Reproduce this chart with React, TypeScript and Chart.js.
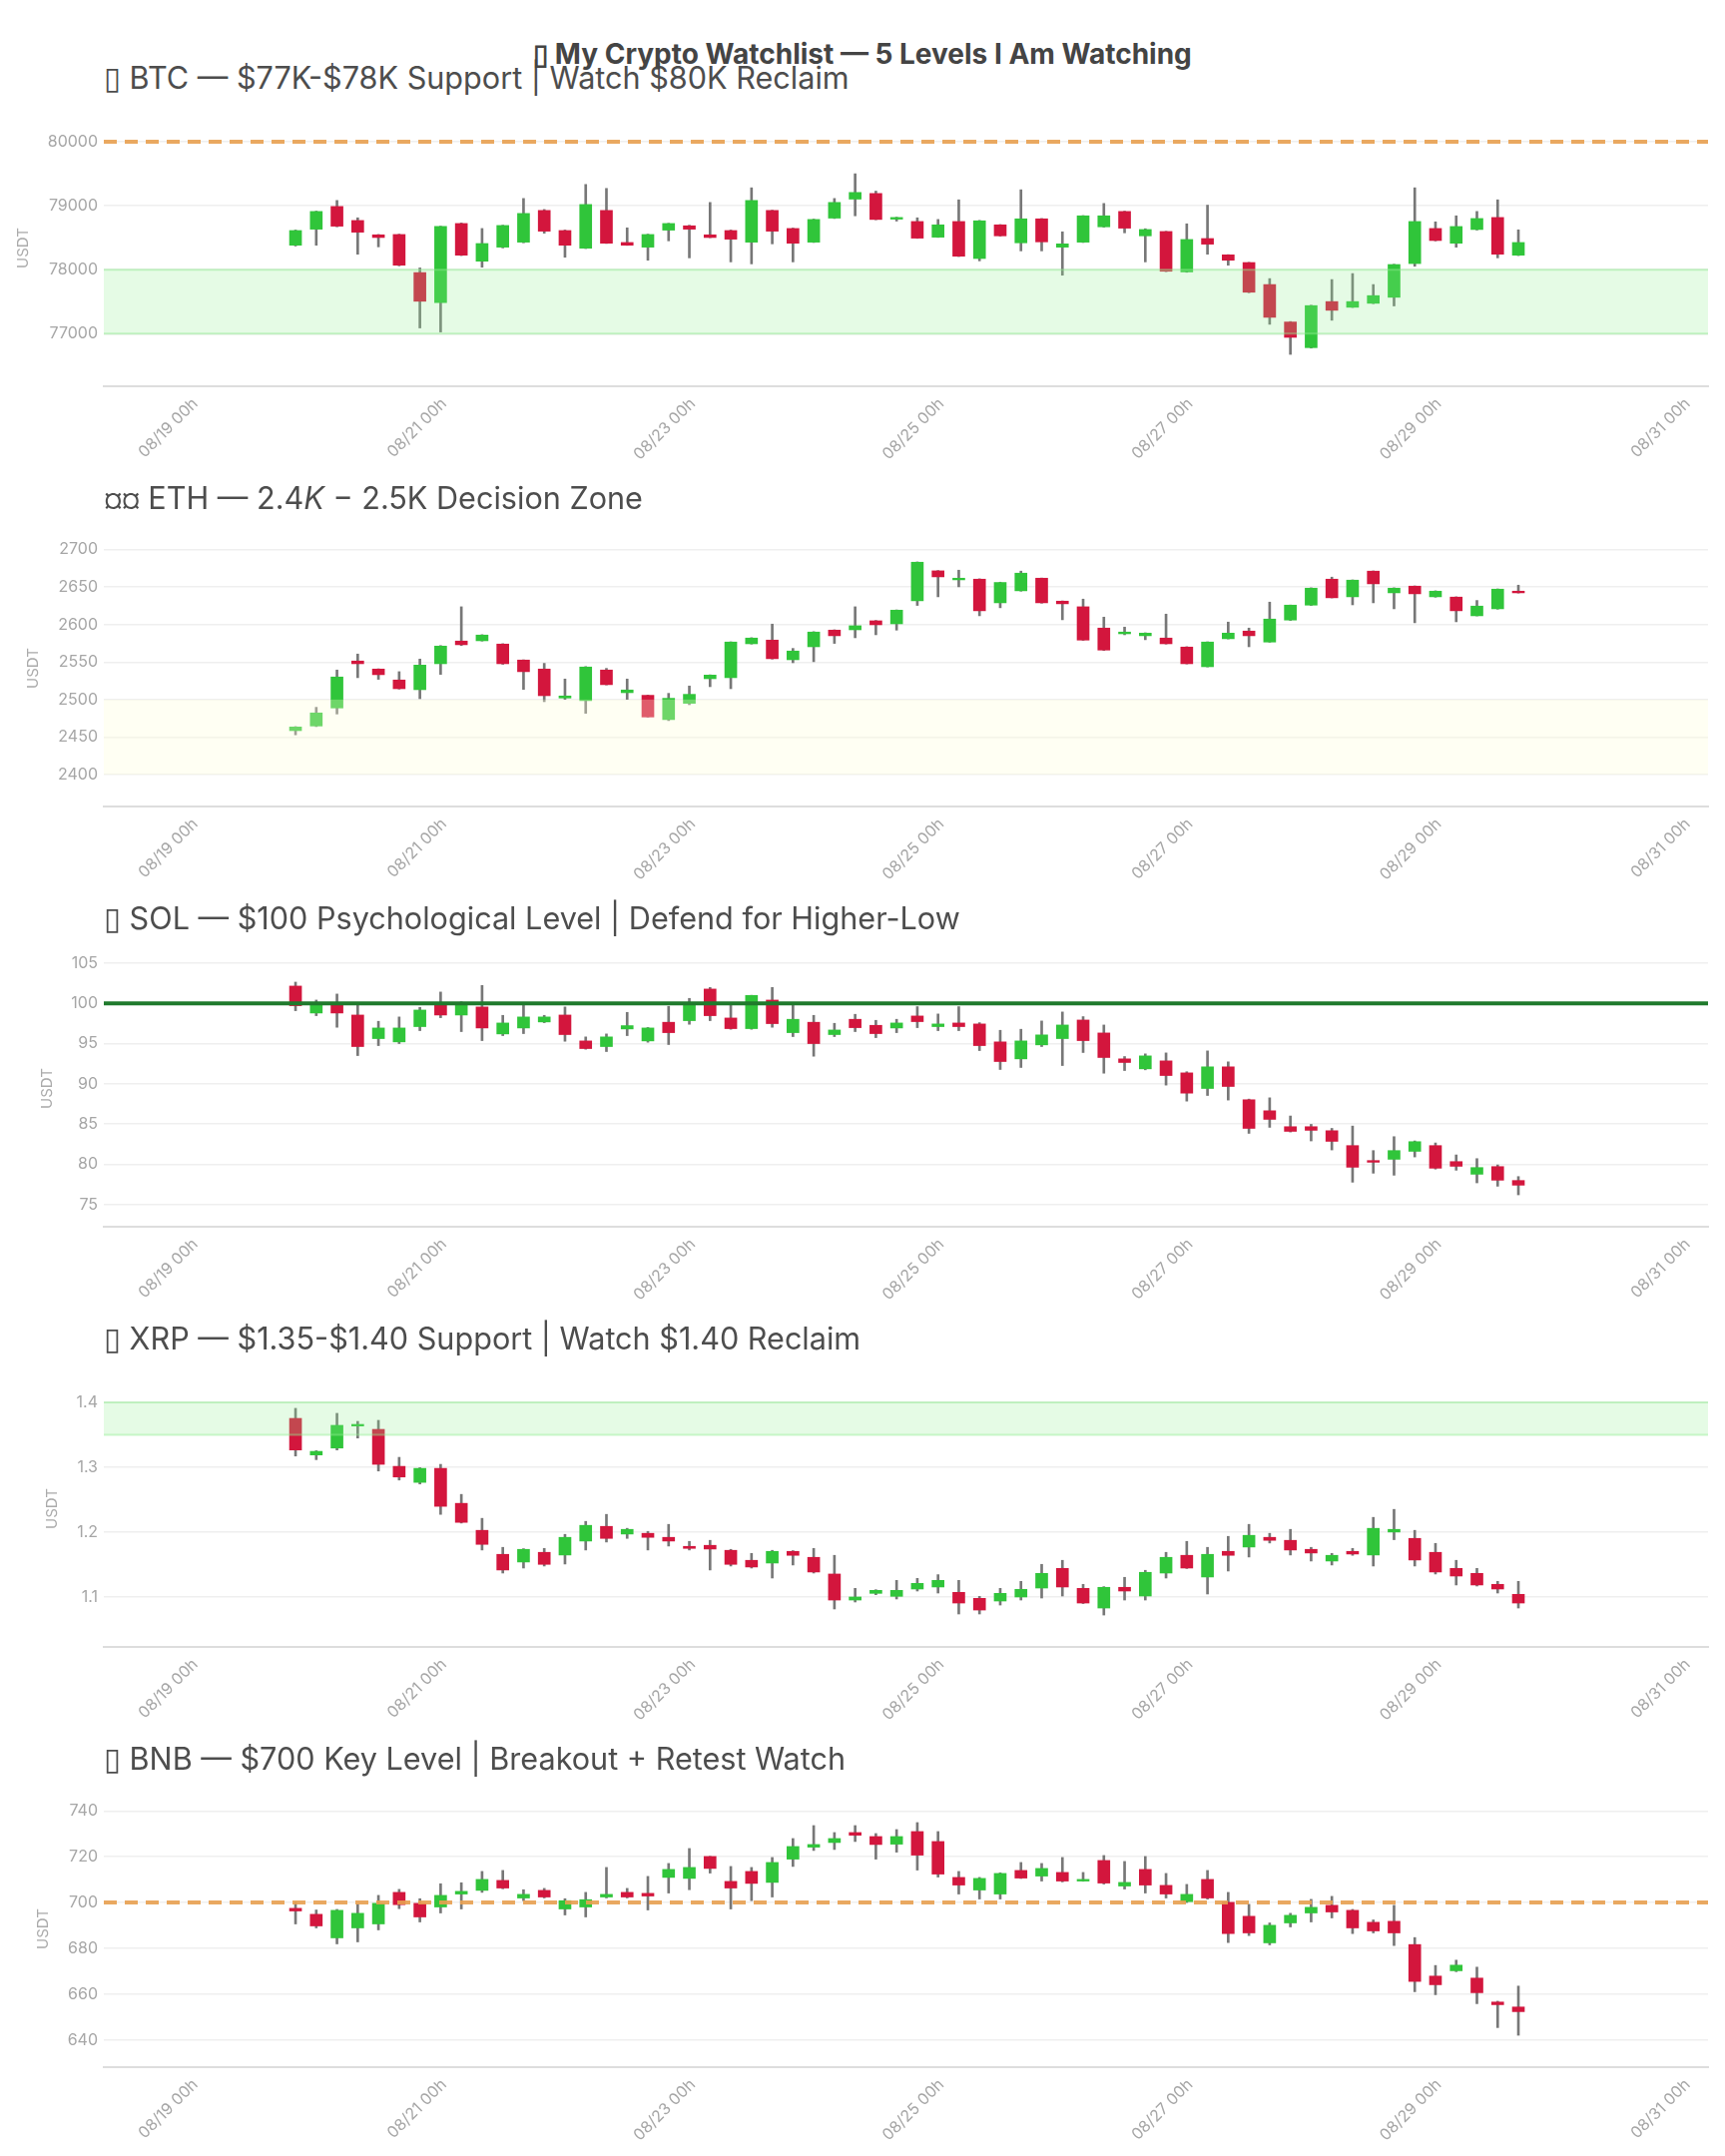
import React, { useEffect, useRef } from "react";
import { Chart, registerables } from "chart.js";

Chart.register(...registerables);

// ---------------- DATA ----------------
const CANDLE_TIMES = [
  "08/19 18h", "08/19 22h",
  "08/20 02h", "08/20 06h", "08/20 10h", "08/20 14h", "08/20 18h", "08/20 22h",
  "08/21 02h", "08/21 06h", "08/21 10h", "08/21 14h", "08/21 18h", "08/21 22h",
  "08/22 02h", "08/22 06h", "08/22 10h", "08/22 14h", "08/22 18h", "08/22 22h",
  "08/23 02h", "08/23 06h", "08/23 10h", "08/23 14h", "08/23 18h", "08/23 22h",
  "08/24 02h", "08/24 06h", "08/24 10h", "08/24 14h", "08/24 18h", "08/24 22h",
  "08/25 02h", "08/25 06h", "08/25 10h", "08/25 14h", "08/25 18h", "08/25 22h",
  "08/26 02h", "08/26 06h", "08/26 10h", "08/26 14h", "08/26 18h", "08/26 22h",
  "08/27 02h", "08/27 06h", "08/27 10h", "08/27 14h", "08/27 18h", "08/27 22h",
  "08/28 02h", "08/28 06h", "08/28 10h", "08/28 14h", "08/28 18h", "08/28 22h",
  "08/29 02h", "08/29 06h", "08/29 10h", "08/29 14h",
];

const X_TICK_LABELS = ["08/19 00h", "08/21 00h", "08/23 00h", "08/25 00h", "08/27 00h", "08/29 00h", "08/31 00h"];

const BTC_OPEN = [78383, 78633, 78988, 78769, 78545, 78550, 77955, 77486, 78722, 78133, 78352, 78430, 78926, 78612, 78336, 78926, 78425, 78352, 78618, 78686, 78545, 78612, 78430, 78926, 78644, 78430, 78806, 79103, 79191, 78790, 78753, 78508, 78753, 78175, 78701, 78420, 78795, 78352, 78430, 78670, 78910, 78529, 78597, 77966, 78487, 78232, 78112, 77768, 77183, 76782, 77502, 77413, 77475, 77569, 78096, 78644, 78414, 78628, 78816, 78227];
const BTC_HIGH = [78620, 78915, 79082, 78811, 78550, 78555, 78028, 78680, 78730, 78644, 78695, 79113, 78941, 78620, 79332, 79270, 78654, 78555, 78725, 78695, 79051, 78620, 79280, 78930, 78650, 78790, 79113, 79499, 79228, 78820, 78811, 78785, 79092, 78770, 78705, 79249, 78800, 78592, 78845, 79035, 78915, 78640, 78600, 78717, 79009, 78235, 78115, 77861, 77190, 77445, 77846, 77940, 77768, 78085, 79280, 78748, 78842, 78910, 79092, 78623];
const BTC_LOW = [78370, 78383, 78670, 78242, 78357, 78060, 77090, 77027, 78220, 78039, 78340, 78420, 78570, 78195, 78330, 78410, 78380, 78148, 78451, 78185, 78500, 78122, 78091, 78404, 78122, 78425, 78800, 78842, 78780, 78760, 78490, 78505, 78205, 78138, 78525, 78294, 78294, 77914, 78425, 78665, 78576, 78122, 77970, 77960, 78242, 78070, 77640, 77147, 76677, 76775, 77210, 77410, 77470, 77434, 78054, 78450, 78352, 78620, 78185, 78220];
const BTC_CLOSE = [78612, 78910, 78680, 78586, 78503, 78070, 77507, 78675, 78227, 78409, 78691, 78879, 78602, 78383, 79019, 78414, 78383, 78550, 78722, 78633, 78503, 78477, 79082, 78602, 78414, 78785, 79051, 79207, 78785, 78816, 78493, 78701, 78211, 78764, 78529, 78795, 78435, 78404, 78842, 78842, 78649, 78628, 77976, 78472, 78399, 78148, 77648, 77256, 76943, 77439, 77366, 77502, 77595, 78081, 78753, 78456, 78675, 78800, 78242, 78425];

const ETH_OPEN = [2458.6, 2464.8, 2488.8, 2551.4, 2540.7, 2526.1, 2513.2, 2547.8, 2578, 2578.4, 2574, 2552.7, 2540.7, 2502.1, 2498.6, 2539.4, 2509.2, 2505.7, 2473.3, 2495, 2527.8, 2529.2, 2574.4, 2579.3, 2553.1, 2570.4, 2592.6, 2593, 2605, 2601, 2631.7, 2671.6, 2659.6, 2660.5, 2629, 2645, 2661.8, 2631.2, 2623.7, 2595.3, 2587.7, 2585.1, 2582, 2570, 2543.8, 2581.1, 2591.3, 2576.7, 2606, 2625.9, 2660.5, 2637, 2671.2, 2642.3, 2651.2, 2637, 2636.6, 2611.7, 2621, 2644.5];
const ETH_HIGH = [2464, 2489.7, 2539.4, 2560.7, 2541, 2537.2, 2554, 2572, 2623.7, 2586.5, 2574.5, 2553, 2548.3, 2527.4, 2544, 2541.6, 2527.4, 2506, 2508.3, 2518.1, 2533, 2577, 2582.5, 2600.6, 2568.2, 2590.5, 2593, 2623.7, 2605.5, 2619.5, 2683.5, 2672, 2672.5, 2661, 2656.5, 2671.2, 2662, 2631.5, 2633.9, 2609.9, 2596.6, 2589, 2613.9, 2570.5, 2577, 2603.3, 2595.3, 2629.9, 2626, 2649, 2663.2, 2659.5, 2671.5, 2649, 2651.5, 2645, 2637, 2632.1, 2647.5, 2652.5];
const ETH_LOW = [2453, 2464, 2480.8, 2529.2, 2527, 2514, 2501.2, 2533.6, 2572, 2578, 2547, 2513.6, 2497.2, 2500.3, 2481.7, 2519.5, 2500.3, 2476.5, 2472, 2493.2, 2517.2, 2514.5, 2574, 2554, 2549.1, 2550.5, 2574.9, 2582.4, 2586.4, 2592.6, 2625.5, 2637, 2650.3, 2611.7, 2622.4, 2644.5, 2628.5, 2606.4, 2579, 2565.5, 2586.4, 2579.8, 2574, 2547.5, 2543.5, 2580.8, 2570.4, 2576.5, 2605.5, 2625.5, 2635.5, 2626.3, 2629, 2621, 2602.4, 2636.5, 2603.7, 2611.5, 2620.5, 2642];
const ETH_CLOSE = [2463.5, 2482.2, 2530.1, 2547.8, 2533.2, 2514.5, 2546, 2571.3, 2573.1, 2586, 2547.8, 2537.2, 2505.2, 2504.8, 2543.4, 2519.9, 2512.8, 2476.8, 2501.7, 2507, 2532.7, 2576.7, 2582, 2554.5, 2564.7, 2590, 2585.1, 2598.4, 2599.7, 2619.2, 2683.1, 2663.6, 2661.8, 2618.4, 2656.1, 2668.5, 2629, 2627.7, 2579.3, 2566, 2590, 2588.6, 2574.4, 2547.8, 2576.7, 2588.6, 2585.1, 2607.3, 2625.9, 2648.5, 2635.7, 2659.2, 2654.3, 2648.5, 2641, 2644.5, 2618.4, 2624.6, 2647.2, 2642.3];

const SOL_OPEN = [102.15, 98.8, 100, 98.55, 95.62, 95.21, 97.11, 99.83, 98.55, 99.55, 96.2, 96.94, 97.69, 98.55, 95.33, 94.63, 96.82, 95.33, 97.65, 97.85, 101.78, 98.18, 96.86, 100.41, 96.36, 97.65, 96.12, 98.02, 97.27, 96.94, 98.43, 97.11, 97.56, 97.44, 95.21, 93.1, 94.84, 95.62, 97.93, 96.32, 93.1, 91.86, 92.85, 91.36, 89.42, 92.11, 88.02, 86.65, 84.67, 84.67, 84.17, 82.32, 80.46, 80.62, 81.61, 82.32, 80.33, 78.76, 79.71, 77.98];
const SOL_HIGH = [102.64, 100.41, 101.16, 99.8, 97.77, 98.31, 99.5, 101.41, 100.2, 102.23, 98.51, 99.8, 98.51, 99.55, 95.83, 96.2, 98.88, 97, 99.63, 100.62, 101.98, 99.8, 101, 101.98, 99.8, 98.51, 97.52, 98.64, 97.89, 98.02, 99.59, 98.68, 99.59, 97.6, 96.65, 96.78, 97.81, 98.93, 98.35, 97.31, 93.39, 93.72, 93.84, 91.5, 94.09, 92.73, 88.1, 88.26, 86, 84.96, 84.46, 84.75, 81.7, 83.43, 82.9, 82.65, 81.16, 80.7, 79.92, 78.47];
const SOL_LOW = [99.09, 98.47, 97.03, 93.51, 94.75, 95, 96.61, 98.22, 96.49, 95.37, 95.99, 96.24, 97.6, 95.29, 94.3, 94.01, 95.99, 95.17, 94.88, 97.4, 97.85, 96.78, 96.78, 97.03, 95.87, 93.43, 95.87, 96.49, 95.74, 96.36, 96.98, 96.61, 96.61, 94.13, 91.78, 92.03, 94.63, 92.27, 93.89, 91.32, 91.65, 91.74, 89.84, 87.85, 88.55, 87.98, 83.84, 84.59, 84.01, 82.9, 81.78, 77.77, 78.89, 78.64, 80.91, 79.4, 79.26, 77.69, 77.27, 76.2];
const SOL_CLOSE = [99.71, 100, 98.8, 94.63, 96.94, 96.94, 99.17, 98.55, 100, 96.94, 97.56, 98.31, 98.31, 96.12, 94.38, 95.83, 97.23, 96.94, 96.36, 100, 98.47, 96.86, 100.99, 97.48, 98.02, 95, 96.69, 96.98, 96.24, 97.56, 97.73, 97.44, 97.11, 94.75, 92.77, 95.33, 96.08, 97.31, 95.37, 93.27, 92.65, 93.47, 91.03, 88.84, 92.11, 89.67, 84.46, 85.58, 84.09, 84.22, 82.85, 79.63, 80.25, 81.7, 82.81, 79.51, 79.75, 79.59, 78.02, 77.4];

const XRP_OPEN = [1.3753, 1.3189, 1.3296, 1.3635, 1.3584, 1.3014, 1.2767, 1.2983, 1.2444, 1.2028, 1.1658, 1.154, 1.1689, 1.1648, 1.1863, 1.2089, 1.1971, 1.1982, 1.192, 1.1781, 1.1797, 1.172, 1.1566, 1.1524, 1.1704, 1.1612, 1.1355, 1.0954, 1.1057, 1.1011, 1.1124, 1.1155, 1.1072, 1.098, 1.0939, 1.1001, 1.1139, 1.1442, 1.1134, 1.0831, 1.115, 1.1016, 1.137, 1.1643, 1.1309, 1.1704, 1.1771, 1.192, 1.1874, 1.1735, 1.1555, 1.1704, 1.1648, 1.2002, 1.1904, 1.1689, 1.1442, 1.1365, 1.1196, 1.1042];
const XRP_HIGH = [1.3908, 1.3255, 1.3831, 1.3707, 1.3723, 1.3153, 1.2993, 1.3045, 1.2582, 1.2213, 1.1766, 1.1745, 1.175, 1.1966, 1.2166, 1.2274, 1.2059, 1.2012, 1.212, 1.1858, 1.1874, 1.1735, 1.1673, 1.172, 1.1715, 1.175, 1.1643, 1.1134, 1.1113, 1.1257, 1.1288, 1.1345, 1.1257, 1.1011, 1.1134, 1.1242, 1.1504, 1.1566, 1.1196, 1.116, 1.1304, 1.1412, 1.1689, 1.1858, 1.1766, 1.1935, 1.212, 1.1982, 1.2043, 1.1766, 1.1673, 1.175, 1.2228, 1.2351, 1.2028, 1.1827, 1.1566, 1.1442, 1.1242, 1.1242];
const XRP_LOW = [1.3173, 1.3117, 1.3266, 1.345, 1.2942, 1.2803, 1.2742, 1.2274, 1.214, 1.1725, 1.137, 1.1447, 1.1478, 1.1509, 1.1725, 1.1848, 1.1904, 1.1725, 1.1786, 1.1725, 1.1417, 1.1478, 1.1447, 1.1293, 1.1494, 1.137, 1.0816, 1.0924, 1.1036, 1.097, 1.1093, 1.1062, 1.0739, 1.0739, 1.0877, 1.0954, 1.0985, 1.1016, 1.09, 1.0723, 1.0954, 1.0954, 1.1293, 1.144, 1.1047, 1.1401, 1.1617, 1.1833, 1.1648, 1.1555, 1.1494, 1.1643, 1.1478, 1.1884, 1.1478, 1.1355, 1.1186, 1.117, 1.1062, 1.0831];
const XRP_CLOSE = [1.3266, 1.3245, 1.3646, 1.3661, 1.3045, 1.285, 1.2983, 1.2398, 1.2151, 1.1812, 1.1417, 1.1735, 1.1504, 1.192, 1.2105, 1.1904, 1.2043, 1.192, 1.1863, 1.175, 1.174, 1.1504, 1.1463, 1.1704, 1.1643, 1.1386, 1.0954, 1.1001, 1.1103, 1.1103, 1.1211, 1.1257, 1.0908, 1.08, 1.1057, 1.1119, 1.1365, 1.1155, 1.0908, 1.115, 1.1093, 1.1381, 1.1612, 1.1447, 1.1658, 1.1643, 1.1951, 1.1874, 1.1725, 1.1679, 1.1643, 1.1663, 1.2059, 1.2043, 1.1571, 1.1386, 1.1324, 1.1186, 1.1124, 1.0908];

const BNB_OPEN = [697.47, 694.86, 684.56, 688.91, 690.65, 704.44, 699.65, 698.05, 703.71, 705.31, 709.67, 701.97, 705.31, 697.18, 698.05, 702.41, 704.44, 704.01, 710.97, 710.54, 720.12, 709.23, 713.58, 708.79, 718.95, 724.18, 726.21, 730.57, 728.82, 725.49, 731, 726.65, 710.97, 705.46, 703.71, 714.02, 711.55, 713.15, 709.38, 718.37, 707.2, 714.46, 707.49, 700.38, 710.1, 700.09, 694, 682.38, 691.09, 695.44, 698.78, 696.6, 691.38, 691.81, 681.65, 667.87, 670.19, 667, 656.54, 654.37];
const BNB_HIGH = [700.09, 696.75, 697, 699.22, 703.13, 705.75, 701.68, 708.21, 708.65, 713.58, 714.02, 705.6, 706.18, 701.68, 704.44, 715.33, 706.18, 711.41, 717.07, 723.6, 720.2, 715.76, 715.33, 719.68, 727.95, 733.61, 730.57, 733.61, 730.13, 731.87, 734.92, 731, 713.58, 710.97, 713, 717.5, 717.07, 719.68, 713.15, 720.55, 717.94, 720.12, 712.71, 707.92, 714.02, 704.44, 699.22, 691.09, 695.3, 701.39, 702.7, 697, 692.4, 698.78, 684.7, 672.51, 674.83, 671.78, 656.9, 663.51];
const BNB_LOW = [690.65, 688.91, 681.94, 682.81, 688.04, 697.33, 691.52, 695.44, 697.18, 704.44, 706, 700.81, 702, 694.57, 693.7, 702, 702, 696.75, 704.15, 705.6, 712.86, 697.18, 700.81, 702.41, 715.76, 722.73, 723.16, 726.65, 718.95, 722, 714.17, 711.12, 703.71, 701.54, 701.54, 710.5, 709.38, 709, 709.3, 708.07, 705.89, 704.15, 701.97, 700, 701.5, 682.52, 685.57, 681.51, 689.35, 691.52, 693.27, 686.44, 686.73, 681.22, 661.04, 659.74, 669.8, 655.82, 645.37, 642.03];
const BNB_CLOSE = [696.31, 689.78, 696.6, 695.3, 699.65, 699.07, 693.7, 703.13, 704.88, 710.1, 706.33, 703.57, 702.41, 700.81, 701.25, 703.57, 702.41, 702.84, 714.46, 715.33, 714.89, 706.33, 708.36, 717.5, 724.47, 725.34, 727.95, 729.4, 725.34, 728.82, 720.7, 712.42, 707.63, 710.54, 712.71, 710.68, 714.89, 709.38, 710.1, 708.5, 708.79, 707.63, 703.71, 703.57, 701.97, 686.44, 686.73, 690.07, 694.43, 697.91, 695.88, 688.91, 687.6, 686.73, 665.54, 664.09, 672.65, 660.61, 655.38, 652.34];

const BTC_TICKS = [77000, 78000, 79000, 80000];
const ETH_TICKS = [2400, 2450, 2500, 2550, 2600, 2650, 2700];
const SOL_TICKS = [75, 80, 85, 90, 95, 100, 105];
const XRP_TICKS = [1.1, 1.2, 1.3, 1.4];
const BNB_TICKS = [640, 660, 680, 700, 720, 740];

const BTC_ZONE = [77000, 78000];
const BTC_LEVEL = 80000;
const ETH_ZONE = [2400, 2500];
const SOL_LEVEL = 100;
const XRP_ZONE = [1.35, 1.4];
const BNB_LEVEL = 700;

// ---------------- STYLE ----------------
const FONT = "Inter, 'Noto Sans', sans-serif";
const GREEN = "#30c53a";
const RED = "#d3163d";
const WICK = "#777777";
const ORANGE = "rgba(232,160,80,0.9)";
const DARK_GREEN = "#1f7a2c";
const X_MIN = -19;
const X_MAX = 290.6;
const PANEL_STEP = 421;

function toHours(s: string): number {
  const day = parseInt(s.slice(3, 5), 10);
  const hour = parseInt(s.slice(6, 8), 10);
  return (day - 19) * 24 + hour;
}

type Panel = {
  title: React.ReactNode;
  open: number[];
  high: number[];
  low: number[];
  close: number[];
  ticks: number[];
  zone?: number[];
  zoneFill?: string;
  zoneEdge?: string;
  level?: number;
  levelColor?: string;
  levelDash?: number[];
};

const PANELS: Panel[] = [
  {
    title: "▯ BTC — $77K-$78K Support | Watch $80K Reclaim",
    open: BTC_OPEN, high: BTC_HIGH, low: BTC_LOW, close: BTC_CLOSE, ticks: BTC_TICKS,
    zone: BTC_ZONE, zoneFill: "rgba(144,238,144,0.23)", zoneEdge: "rgba(144,238,144,0.45)",
    level: BTC_LEVEL, levelColor: ORANGE, levelDash: [13, 8],
  },
  {
    title: (<span><span style={{ fontSize: 26, letterSpacing: -1 }}>¤¤</span> ETH — 2.4<i>K</i> − 2.5K Decision Zone</span>),
    open: ETH_OPEN, high: ETH_HIGH, low: ETH_LOW, close: ETH_CLOSE, ticks: ETH_TICKS,
    zone: ETH_ZONE, zoneFill: "rgba(255,255,215,0.3)",
  },
  {
    title: "▯ SOL — $100 Psychological Level | Defend for Higher-Low",
    open: SOL_OPEN, high: SOL_HIGH, low: SOL_LOW, close: SOL_CLOSE, ticks: SOL_TICKS,
    level: SOL_LEVEL, levelColor: DARK_GREEN, levelDash: [],
  },
  {
    title: "▯ XRP — $1.35-$1.40 Support | Watch $1.40 Reclaim",
    open: XRP_OPEN, high: XRP_HIGH, low: XRP_LOW, close: XRP_CLOSE, ticks: XRP_TICKS,
    zone: XRP_ZONE, zoneFill: "rgba(144,238,144,0.23)", zoneEdge: "rgba(144,238,144,0.45)",
  },
  {
    title: "▯ BNB — $700 Key Level | Breakout + Retest Watch",
    open: BNB_OPEN, high: BNB_HIGH, low: BNB_LOW, close: BNB_CLOSE, ticks: BNB_TICKS,
    level: BNB_LEVEL, levelColor: ORANGE, levelDash: [13, 8],
  },
];

const levelsPlugin = {
  id: "levels",
  afterDatasetsDraw(chart: any, _args: any, opts: any) {
    const p: Panel = opts.panel;
    if (!p) return;
    const { ctx, chartArea } = chart;
    const y = chart.scales.y;
    ctx.save();
    ctx.beginPath();
    ctx.rect(chartArea.left, chartArea.top, chartArea.right - chartArea.left, chartArea.bottom - chartArea.top);
    ctx.clip();
    if (p.zone) {
      const y1 = y.getPixelForValue(p.zone[1]);
      const y0 = y.getPixelForValue(p.zone[0]);
      ctx.fillStyle = p.zoneFill;
      ctx.fillRect(chartArea.left, y1, chartArea.right - chartArea.left, y0 - y1);
      if (p.zoneEdge) {
        ctx.strokeStyle = p.zoneEdge;
        ctx.lineWidth = 2;
        ctx.beginPath();
        ctx.moveTo(chartArea.left, y1); ctx.lineTo(chartArea.right, y1);
        ctx.moveTo(chartArea.left, y0); ctx.lineTo(chartArea.right, y0);
        ctx.stroke();
      }
    }
    if (p.level !== undefined) {
      const yl = y.getPixelForValue(p.level);
      ctx.strokeStyle = p.levelColor;
      ctx.lineWidth = 4;
      ctx.setLineDash(p.levelDash || []);
      ctx.beginPath();
      ctx.moveTo(chartArea.left, yl);
      ctx.lineTo(chartArea.right, yl);
      ctx.stroke();
    }
    ctx.restore();
  },
};

const yTitlePlugin = {
  id: "ytitle",
  afterDraw(chart: any, _args: any, opts: any) {
    const { ctx, chartArea } = chart;
    const ticks: number[] = opts.ticks || [];
    ctx.save();
    ctx.font = `16px ${FONT}`;
    let widest = 0;
    ticks.forEach((t) => { widest = Math.max(widest, ctx.measureText(String(t)).width); });
    const x = chartArea.left - 6 - widest - 24;
    const yc = (chartArea.top + chartArea.bottom) / 2;
    ctx.translate(x, yc);
    ctx.rotate(-Math.PI / 2);
    ctx.font = `15px ${FONT}`;
    ctx.fillStyle = "#ababab";
    ctx.textAlign = "center";
    ctx.textBaseline = "middle";
    ctx.fillText("USDT", 0, 0);
    ctx.restore();
  },
};

function CandleChart({ panel }: { panel: Panel }) {
  const ref = useRef<HTMLCanvasElement | null>(null);
  useEffect(() => {
    if (!ref.current) return;
    const hours = CANDLE_TIMES.map(toHours);
    const tickHours = X_TICK_LABELS.map(toHours);
    const lows = panel.low.concat(panel.zone || [], panel.level !== undefined ? [panel.level] : []);
    const highs = panel.high.concat(panel.zone || [], panel.level !== undefined ? [panel.level] : []);
    const lo = Math.min(...lows);
    const hi = Math.max(...highs);
    const pad = (hi - lo) * 0.15;

    const bodies = hours.map((h, i) => ({ x: h, y: [panel.open[i], panel.close[i]] }));
    const bodyColors = hours.map((_, i) => (panel.close[i] >= panel.open[i] ? GREEN : RED));
    const wicks = hours.map((h, i) => ({ x: h, y: [panel.low[i], panel.high[i]] }));

    const chart = new Chart(ref.current, {
      type: "bar",
      data: {
        datasets: [
          { data: bodies as any, backgroundColor: bodyColors, barThickness: 12, grouped: false, borderWidth: 0 } as any,
          { data: wicks as any, backgroundColor: WICK, barThickness: 2, grouped: false, borderWidth: 0 } as any,
        ],
      },
      options: {
        animation: false,
        responsive: false,
        devicePixelRatio: 1,
        events: [],
        layout: { padding: { top: 10, bottom: 54, left: 0, right: 17 } },
        plugins: {
          legend: { display: false },
          tooltip: { enabled: false },
          title: { display: false },
          levels: { panel },
          ytitle: { ticks: panel.ticks },
        } as any,
        scales: {
          x: {
            type: "linear",
            min: X_MIN,
            max: X_MAX,
            offset: false,
            grid: { display: false, drawTicks: false, offset: false },
            border: { display: true, color: "#dddddd", width: 2 },
            afterBuildTicks: (scale: any) => { scale.ticks = tickHours.map((v) => ({ value: v })); },
            afterFit: (scale: any) => { scale.height = 80; scale.paddingLeft = 0; scale.paddingRight = 0; },
            ticks: {
              autoSkip: false,
              minRotation: 45,
              maxRotation: 45,
              padding: 8,
              labelOffset: -7,
              color: "#a6a6a6",
              font: { family: FONT, size: 16 },
              callback: (_v: any, i: number) => X_TICK_LABELS[i],
            },
          },
          y: {
            type: "linear",
            min: lo - pad,
            max: hi + pad,
            grid: { color: "#efefef", lineWidth: 1.5, drawTicks: false },
            border: { display: false },
            afterBuildTicks: (scale: any) => { scale.ticks = panel.ticks.map((v) => ({ value: v })); },
            afterFit: (scale: any) => { scale.width = 104; scale.paddingTop = 0; scale.paddingBottom = 0; },
            ticks: {
              padding: 6,
              color: "#a6a6a6",
              font: { family: FONT, size: 16 },
              callback: (v: any) => String(v),
            },
          },
        },
      } as any,
      plugins: [levelsPlugin, yTitlePlugin],
    });
    return () => chart.destroy();
  }, [panel]);
  return <canvas ref={ref} width={1728} height={PANEL_STEP} style={{ width: 1728, height: PANEL_STEP, display: "block" }} />;
}

export default function App() {
  return (
    <div style={{ position: "absolute", left: 0, top: 0, width: 1728, height: 2160, overflow: "hidden", background: "#fff", fontFamily: FONT }}>
      {PANELS.map((p, k) => (
        <div key={k} style={{ position: "absolute", left: 0, top: 100 + PANEL_STEP * k, width: 1728, height: PANEL_STEP }}>
          <CandleChart panel={p} />
        </div>
      ))}
      {PANELS.map((p, k) => (
        <div key={"t" + k} style={{ position: "absolute", left: 104, top: 78 + PANEL_STEP * k - 18, height: 36, lineHeight: "36px", fontSize: 30.6, color: "#4d4d4d", whiteSpace: "nowrap" }}>
          {p.title}
        </div>
      ))}
      <div style={{ position: "absolute", left: 0, top: 54 - 16, width: 1728, height: 32, lineHeight: "32px", textAlign: "center", fontSize: 28, fontWeight: 700, color: "#444444", whiteSpace: "nowrap" }}>
        ▯ My Crypto Watchlist — 5 Levels I Am Watching
      </div>
    </div>
  );
}
